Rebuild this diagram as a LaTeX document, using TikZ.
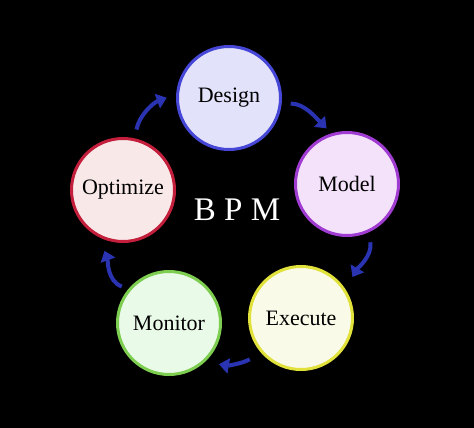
\documentclass[tikz,border=0pt]{standalone}
\usepackage{fontspec}
\setmainfont{Liberation Serif}
\usetikzlibrary{arrows.meta}
\definecolor{arrowblue}{RGB}{42,52,178}
\definecolor{dfill}{RGB}{226,226,250}
\definecolor{ddraw}{RGB}{70,70,215}
\definecolor{mfill}{RGB}{244,226,250}
\definecolor{mdraw}{RGB}{160,60,210}
\definecolor{efill}{RGB}{250,250,232}
\definecolor{edraw}{RGB}{225,225,60}
\definecolor{ofill}{RGB}{234,250,232}
\definecolor{odraw}{RGB}{125,205,80}
\definecolor{pfill}{RGB}{248,232,232}
\definecolor{pdraw}{RGB}{195,30,60}
\tikzset{
  stage/.style={circle, minimum size=103pt, inner sep=0pt, line width=3pt,
    font=\fontsize{22}{24}\selectfont, text=black},
  cyc/.style={draw=arrowblue, line width=4pt,
    -{Triangle[width=15pt,length=10pt]}}
}
\begin{document}
\begin{tikzpicture}[x=1pt,y=-1pt]
\fill[black] (0,0) rectangle (474,428);
\useasboundingbox (0,0) rectangle (474,428);
\node[stage, fill=dfill, draw=ddraw] (design) at (229,98) {Design};
\node[stage, fill=mfill, draw=mdraw] (model) at (347,184) {Model};
\node[stage, fill=efill, draw=edraw] (execute) at (301,318) {Execute};
\node[stage, fill=ofill, draw=odraw] (monitor) at (169,323) {Monitor};
\node[stage, fill=pfill, draw=pdraw] (optimize) at (123,190) {Optimize};
\node[text=white, font=\fontsize{33}{36}\selectfont] (bpm) at (237,210) {B P M};
\draw[cyc, shorten <=9pt, shorten >=7pt] (design.-6) to[out=0,in=135] (model.107);
\draw[cyc, shorten <=10pt, shorten >=14pt] (model.-66) to[out=-80,in=60] (execute.33);
\draw[cyc, shorten <=13pt, shorten >=14pt] (execute.221) to[out=-150,in=-10] (monitor.-47);
\draw[cyc, shorten <=7pt, shorten >=14pt] (monitor.140) to[out=160,in=-70] (optimize.244);
\draw[cyc, shorten <=9pt, shorten >=10pt] (optimize.77) to[out=80,in=-160] (design.176);
\end{tikzpicture}
\end{document}
